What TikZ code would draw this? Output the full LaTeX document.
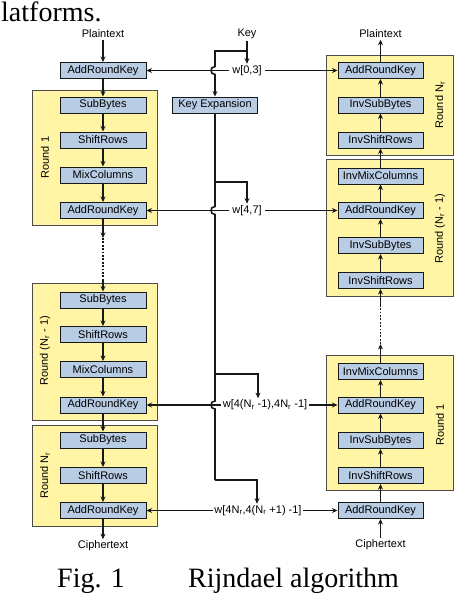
\documentclass[tikz,border=0pt]{standalone}
\usepackage{fontspec}
\setmainfont{Liberation Serif}
\setsansfont{Liberation Sans}
\usetikzlibrary{arrows.meta}
\definecolor{boxblue}{HTML}{B8CCE4}
\definecolor{ryellow}{HTML}{FFF5A5}
\definecolor{lineink}{HTML}{181818}
\begin{document}
\begin{tikzpicture}[x=1pt,y=-1pt,
  stagebox/.style={draw=lineink, fill=boxblue, line width=1pt, minimum height=16pt,
    inner sep=0pt, font=\sffamily\fontsize{11}{12}\selectfont},
  lstage/.style={stagebox, minimum width=86pt},
  rstage/.style={stagebox, minimum width=85pt},
  roundbox/.style={draw=black!70, fill=ryellow, line width=0.9pt, inner sep=0pt},
  lbl/.style={font=\sffamily\fontsize{11}{12}\selectfont, inner sep=1.5pt},
  rlbl/.style={lbl, rotate=90},
  flow/.style={line width=1.6pt, draw=lineink, -{Stealth[length=5.5pt,width=5pt]}},
  plainline/.style={line width=1.6pt, draw=lineink},
  dotline/.style={line width=1.6pt, draw=lineink, dash pattern=on 1.8pt off 1.6pt},
  bigtext/.style={font=\fontsize{28}{30}\selectfont, inner sep=0pt}
]
\useasboundingbox (0,0) rectangle (454,598);

% title and caption
\node[bigtext, anchor=base west] (title) at (1,21) {latforms.};
\node[bigtext, anchor=base west] (figno) at (57,587) {Fig. 1};
\node[bigtext, anchor=base west] (figcap) at (188,587) {Rijndael algorithm};

% ---------------- round boxes (yellow) ----------------
\node[roundbox, minimum width=125pt, minimum height=135pt] (LR1) at (94.5,157.5) {};
\node[roundbox, minimum width=125pt, minimum height=137pt] (LR2) at (94.5,351.5) {};
\node[roundbox, minimum width=125pt, minimum height=101pt] (LR3) at (94.5,475.5) {};
\node[roundbox, minimum width=127pt, minimum height=100pt] (RR3) at (389.5,105) {};
\node[roundbox, minimum width=127pt, minimum height=137pt] (RR2) at (389.5,227.5) {};
\node[roundbox, minimum width=127pt, minimum height=135pt] (RR1) at (389.5,422.5) {};

\node[rlbl] (LR1t) at (45,157.5) {Round 1};
\node[rlbl] (LR2t) at (45,351) {Round (N\textsubscript{r} - 1)};
\node[rlbl] (LR3t) at (45,475.5) {Round N\textsubscript{r}};
\node[rlbl] (RR3t) at (440,105) {Round N\textsubscript{r}};
\node[rlbl] (RR2t) at (440,229) {Round (N\textsubscript{r} - 1)};
\node[rlbl] (RR1t) at (440,425) {Round 1};

% ---------------- left column (encryption) ----------------
\node[lbl] (lplain) at (103,34) {Plaintext};
\node[lstage] (lARK0) at (103,70.5) {AddRoundKey};
\node[lstage] (lSB1) at (103,105) {SubBytes};
\node[lstage] (lSR1) at (103,140) {ShiftRows};
\node[lstage] (lMC1) at (103,175) {MixColumns};
\node[lstage] (lARK1) at (103,210.5) {AddRoundKey};
\node[lstage] (lSB2) at (103,300) {SubBytes};
\node[lstage] (lSR2) at (103,334.5) {ShiftRows};
\node[lstage] (lMC2) at (103,369.5) {MixColumns};
\node[lstage] (lARK2) at (103,405) {AddRoundKey};
\node[lstage] (lSB3) at (103,440) {SubBytes};
\node[lstage] (lSR3) at (103,475.5) {ShiftRows};
\node[lstage] (lARK3) at (103,510.5) {AddRoundKey};
\node[lbl] (lcipher) at (103,546) {Ciphertext};

% ---------------- right column (decryption) ----------------
\node[lbl] (rplain) at (380.5,34) {Plaintext};
\node[rstage] (rARK3) at (380.5,70.5) {AddRoundKey};
\node[rstage] (rISB3) at (380.5,105) {InvSubBytes};
\node[rstage] (rISR3) at (380.5,140) {InvShiftRows};
\node[rstage] (rIMC2) at (380.5,176) {InvMixColumns};
\node[rstage] (rARK2) at (380.5,210.5) {AddRoundKey};
\node[rstage] (rISB2) at (380.5,245.5) {InvSubBytes};
\node[rstage] (rISR2) at (380.5,280.5) {InvShiftRows};
\node[rstage] (rIMC1) at (380.5,371.5) {InvMixColumns};
\node[rstage] (rARK1) at (380.5,405) {AddRoundKey};
\node[rstage] (rISB1) at (380.5,440.5) {InvSubBytes};
\node[rstage] (rISR1) at (380.5,475.5) {InvShiftRows};
\node[rstage] (rARKf) at (380.5,510.5) {AddRoundKey};
\node[lbl] (rcipher) at (380.5,545) {Ciphertext};

% ---------------- key schedule ----------------
\node[lbl] (key) at (247,34) {Key};
\node[rstage] (kexp) at (215,105) {Key Expansion};
\node[lbl, inner xsep=3pt] (w03) at (247,70.5) {w[0,3]};
\node[lbl, inner xsep=3pt] (w47) at (247,210.5) {w[4,7]};
\node[lbl] (wA) at (265,405) {w[4(N\textsubscript{r} -1),4N\textsubscript{r} -1]};
\node[lbl] (wB) at (258,510.5) {w[4N\textsubscript{r},4(N\textsubscript{r} +1) -1]};

\coordinate (kj) at (247,51);
\coordinate (kc) at (215,51);
\coordinate (b2) at (215,182);
\coordinate (b3) at (215,374);
\coordinate (b3e) at (258,374);
\coordinate (b4) at (215,480);
\coordinate (b4e) at (257,480);

% left flow arrows
\draw[flow] (lplain) -- (lARK0);
\draw[flow] (lARK0) -- (lSB1);
\draw[flow] (lSB1) -- (lSR1);
\draw[flow] (lSR1) -- (lMC1);
\draw[flow] (lMC1) -- (lARK1);
\coordinate (ld1) at (103,238);
\coordinate (ld2) at (103,281);
\draw[flow] (lARK1) -- (ld1);
\draw[dotline] (ld1) -- (ld2);
\draw[flow] (ld2) -- (lSB2);
\draw[flow] (lSB2) -- (lSR2);
\draw[flow] (lSR2) -- (lMC2);
\draw[flow] (lMC2) -- (lARK2);
\draw[flow] (lARK2) -- (lSB3);
\draw[flow] (lSB3) -- (lSR3);
\draw[flow] (lSR3) -- (lARK3);
\draw[flow] (lARK3) -- (lcipher);

% right flow arrows (upwards)
\draw[flow] (rcipher) -- (rARKf);
\draw[flow] (rARKf) -- (rISR1);
\draw[flow] (rISR1) -- (rISB1);
\draw[flow] (rISB1) -- (rARK1);
\draw[flow] (rARK1) -- (rIMC1);
\coordinate (rd1) at (380.5,344);
\coordinate (rd2) at (380.5,305);
\draw[flow] (rIMC1) -- (rd1);
\draw[dotline] (rd1) -- (rd2);
\draw[flow] (rd2) -- (rISR2);
\draw[flow] (rISR2) -- (rISB2);
\draw[flow] (rISB2) -- (rARK2);
\draw[flow] (rARK2) -- (rIMC2);
\draw[flow] (rIMC2) -- (rISR3);
\draw[flow] (rISR3) -- (rISB3);
\draw[flow] (rISB3) -- (rARK3);
\draw[flow] (rARK3) -- (rplain);

% key schedule lines
\draw[flow] (key) -- (w03);
\draw[flow] (kj) -- (kc) -- (215,66.5) .. controls (209.67,66.5) and (209.67,74.5) .. (215,74.5) -- (kexp.north);
\draw[plainline] (kexp.south) -- (215,206.5) .. controls (209.67,206.5) and (209.67,214.5) .. (215,214.5)
   -- (215,401) .. controls (209.67,401) and (209.67,409) .. (215,409) -- (b4);
\draw[flow] (b4) -- (b4e) -- (b4e |- wB.north);
\draw[flow] (b2) -| (w47.north);
\draw[flow] (b3) -- (b3e) -- (b3e |- wA.north);

% round keys to AddRoundKey stages
\draw[flow] (w03) -- (lARK0);
\draw[flow] (w03) -- (rARK3);
\draw[flow] (w47) -- (lARK1);
\draw[flow] (w47) -- (rARK2);
\draw[flow] (wA) -- (lARK2);
\draw[flow] (wA) -- (rARK1);
\draw[flow] (wB) -- (lARK3);
\draw[flow] (wB) -- (rARKf);
\end{tikzpicture}
\end{document}
